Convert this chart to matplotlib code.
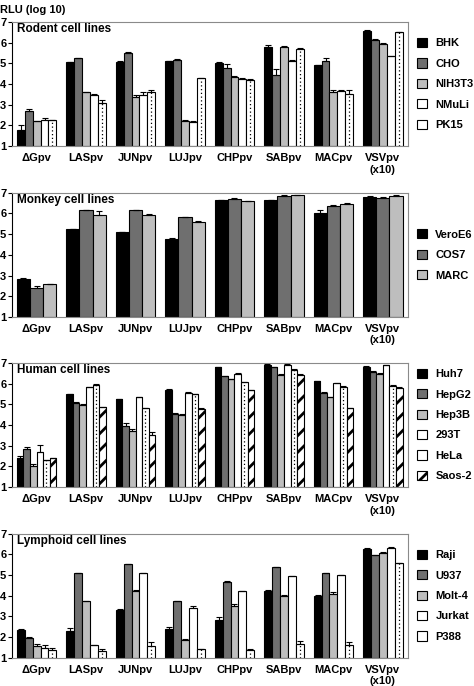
import numpy as np
import matplotlib
matplotlib.use("Agg")
import matplotlib.pyplot as plt

plt.rcParams['font.family'] = ['Liberation Sans', 'DejaVu Sans']
plt.rcParams['font.weight'] = 'bold'
plt.rcParams['hatch.linewidth'] = 2.0

groups = ["\u0394Gpv", "LASpv", "JUNpv", "LUJpv", "CHPpv", "SABpv", "MACpv", "VSVpv\n(x10)"]

# rodent
rodent_lines = ["BHK", "CHO", "NIH3T3", "NMuLi", "PK15"]
rodent_vals = [
    [1.76, 5.05, 5.05, 5.10, 5.00, 5.78, 4.90, 6.58],
    [2.68, 5.25, 5.52, 5.17, 4.78, 4.45, 5.12, 6.15],
    [2.20, 3.60, 3.35, 2.20, 4.35, 5.80, 3.60, 5.95],
    [2.25, 3.45, 3.45, 2.15, 4.25, 5.10, 3.65, 5.35],
    [2.25, 3.10, 3.60, 4.28, 4.20, 5.70, 3.50, 6.50],
]
rodent_err = [
    [0.25, 0.03, 0.06, 0.02, 0.07, 0.10, 0.02, 0.02],
    [0.12, 0.03, 0.03, 0.02, 0.20, 0.30, 0.15, 0.03],
    [0.03, 0.03, 0.10, 0.08, 0.03, 0.02, 0.10, 0.02],
    [0.12, 0.07, 0.15, 0.05, 0.02, 0.06, 0.08, 0.02],
    [0.03, 0.12, 0.12, 0.02, 0.02, 0.03, 0.20, 0.03],
]

# monkey
monkey_lines = ["VeroE6", "COS7", "MARC"]
monkey_vals = [
    [2.83, 5.25, 5.10, 4.78, 6.65, 6.65, 6.00, 6.80],
    [2.38, 6.15, 6.15, 5.82, 6.72, 6.85, 6.38, 6.77],
    [2.58, 5.92, 5.92, 5.57, 6.60, 6.88, 6.48, 6.85],
]
monkey_err = [
    [0.04, 0.02, 0.02, 0.02, 0.02, 0.02, 0.15, 0.02],
    [0.10, 0.02, 0.03, 0.02, 0.02, 0.02, 0.02, 0.02],
    [0.03, 0.18, 0.06, 0.05, 0.02, 0.02, 0.02, 0.02],
]

# human
human_lines = ["Huh7", "HepG2", "Hep3B", "293T", "HeLa", "Saos-2"]
human_vals = [
    [2.40, 5.50, 5.25, 5.70, 6.78, 6.92, 6.12, 6.82],
    [2.85, 5.08, 3.95, 4.55, 6.35, 6.78, 5.55, 6.57],
    [2.00, 4.98, 3.70, 4.50, 6.20, 6.42, 5.35, 6.48],
    [2.70, 5.82, 5.35, 5.55, 6.48, 6.92, 6.02, 6.90],
    [2.30, 5.95, 4.80, 5.50, 6.08, 6.68, 5.85, 5.90],
    [2.40, 4.85, 3.50, 4.78, 5.68, 6.42, 4.80, 5.80],
]
human_err = [
    [0.10, 0.02, 0.02, 0.02, 0.02, 0.02, 0.02, 0.02],
    [0.10, 0.02, 0.15, 0.02, 0.02, 0.02, 0.02, 0.02],
    [0.10, 0.02, 0.10, 0.02, 0.02, 0.02, 0.02, 0.02],
    [0.35, 0.02, 0.02, 0.02, 0.02, 0.02, 0.02, 0.02],
    [0.03, 0.02, 0.03, 0.02, 0.02, 0.02, 0.02, 0.02],
    [0.02, 0.02, 0.15, 0.02, 0.02, 0.02, 0.02, 0.05],
]

# lymphoid
lymph_lines = ["Raji", "U937", "Molt-4", "Jurkat", "P388"]
lymph_vals = [
    [2.35, 2.30, 3.32, 2.40, 2.85, 4.22, 3.98, 6.28],
    [1.95, 5.10, 5.52, 3.75, 4.68, 5.38, 5.10, 5.95],
    [1.55, 3.75, 4.22, 1.85, 3.50, 4.00, 4.10, 6.08],
    [1.50, 1.60, 5.08, 3.40, 4.22, 4.95, 5.00, 6.33],
    [1.40, 1.35, 1.55, 1.42, 1.40, 1.65, 1.60, 5.57],
]
lymph_err = [
    [0.05, 0.15, 0.03, 0.07, 0.12, 0.08, 0.04, 0.02],
    [0.05, 0.02, 0.02, 0.02, 0.02, 0.02, 0.02, 0.02],
    [0.10, 0.02, 0.08, 0.07, 0.10, 0.02, 0.08, 0.02],
    [0.10, 0.02, 0.02, 0.10, 0.02, 0.02, 0.02, 0.02],
    [0.10, 0.10, 0.20, 0.03, 0.05, 0.15, 0.15, 0.02],
]

styles = ["black", "dark", "light", "white", "dotted", "stripe"]
fills = {"black": "#000000", "dark": "#6f6f6f", "light": "#bebebe",
         "white": "white", "dotted": "white", "stripe": "white"}

panels = [
    ("Rodent cell lines", rodent_lines, rodent_vals, rodent_err),
    ("Monkey cell lines", monkey_lines, monkey_vals, monkey_err),
    ("Human cell lines", human_lines, human_vals, human_err),
    ("Lymphoid cell lines", lymph_lines, lymph_vals, lymph_err),
]
bottoms = [0.787, 0.538, 0.290, 0.041]

fig = plt.figure(figsize=(4.74, 6.86), dpi=100)
fig.text(0.0, 0.992, "RLU (log 10)", fontsize=8, va="top", ha="left")

x = np.arange(len(groups))
for (title, lines, vals, errs), b in zip(panels, bottoms):
    ax = fig.add_axes([0.025, b, 0.835, 0.181])
    n = len(lines)
    w = 0.8 / n
    handles = []
    for i, name in enumerate(lines):
        st = styles[i]
        pos = x - 0.4 + w * (i + 0.5)
        v = np.array(vals[i])
        hatch = "//" if st == "stripe" else None
        bars = ax.bar(pos, v - 1, w, bottom=1, color=fills[st], edgecolor="black",
                      linewidth=0.8, hatch=hatch, zorder=2)
        ax.errorbar(pos, v, yerr=[np.zeros(len(v)), errs[i]], fmt="none",
                    ecolor="black", elinewidth=0.8, capsize=2, capthick=0.8, zorder=3)
        if st == "dotted":
            # dotted centre line of these bars
            ax.vlines(pos, 1, v, colors="black", linestyles=(0, (1, 2)), linewidth=0.9, zorder=3)
        handles.append(bars)
    ax.set_xlim(-0.5, len(groups) - 0.5)
    ax.set_ylim(1, 7)
    ax.set_yticks(range(1, 8))
    ax.set_xticks(x)
    ax.set_xticklabels(groups, fontsize=8)
    ax.tick_params(axis="x", length=0, pad=5)
    ax.tick_params(axis="y", labelsize=8, length=3, width=0.8, pad=1)
    for s in ["top", "right", "bottom"]:
        ax.spines[s].set_color("#8a8a8a")
    ax.spines["left"].set_color("black")
    ax.text(0.013, 0.94, title, transform=ax.transAxes, fontsize=8.5, va="center",
            ha="left", zorder=5)
    ax.legend(handles, lines, loc="center left", bbox_to_anchor=(1.0, 0.5), frameon=False,
              fontsize=8, handlelength=0.9, handleheight=0.9, handletextpad=0.8,
              labelspacing=0.9, borderaxespad=0.4)

fig.savefig("out.png", dpi=100)
